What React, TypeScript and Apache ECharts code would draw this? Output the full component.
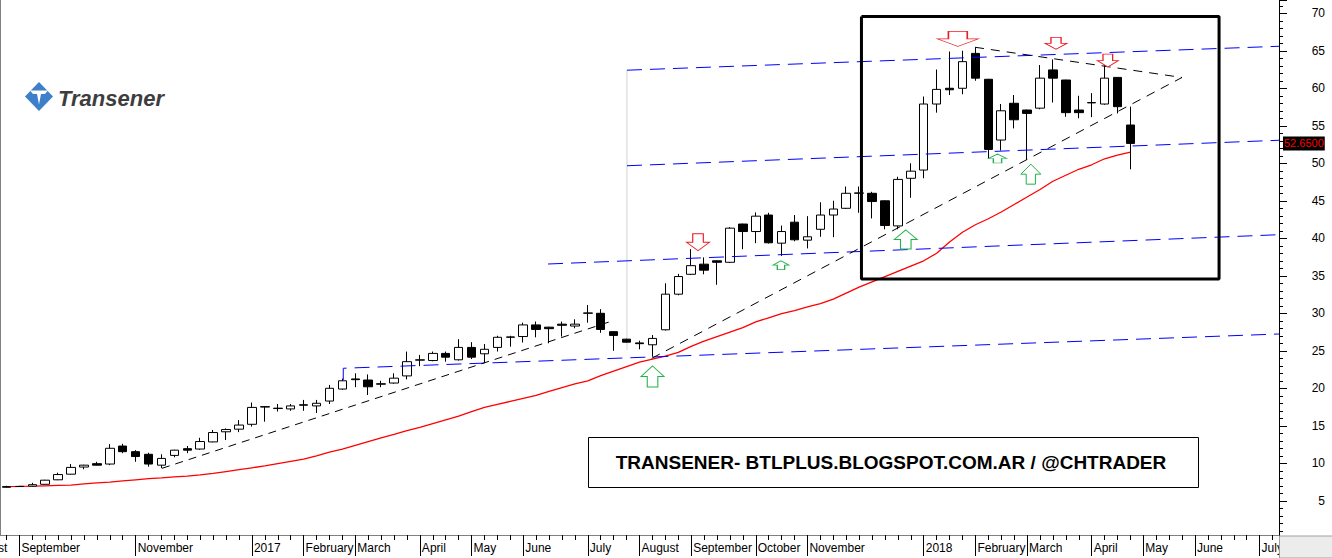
import React, { useEffect, useRef } from 'react';
import * as echarts from 'echarts';

// ---------- categories (weekly bars, week-ending Fridays) ----------
const FIRST_WEEK_UTC = Date.UTC(2016, 7, 26);
const WEEK_COUNT = 99;
const LABELED_MONTHS = [
  '2016-09', '2016-11', '2017-01', '2017-02', '2017-03', '2017-04', '2017-05', '2017-06',
  '2017-07', '2017-08', '2017-09', '2017-10', '2017-11', '2018-01', '2018-02', '2018-03',
  '2018-04', '2018-05', '2018-06', '2018-07',
];
const MONTH_NAMES = ['January', 'February', 'March', 'April', 'May', 'June', 'July', 'August', 'September', 'October', 'November', 'December'];

// ---------- series values ----------
const openPrices = [
  6.8, 6.9, 6.95, 7.2, 7.8, 8.55, 9.5, 9.95, 9.9, 12.3,
  11.55, 11.2, 9.75, 11.05, 11.95, 11.9, 12.85, 14.2, 14.55, 15.2,
  17.55, 17.35, 17.25, 17.8, 17.65, 18.3, 19.9, 21.25, 21.1, 20.6,
  20.7, 21.65, 23.75, 23.7, 24.65, 23.8, 25.45, 24.6, 25.45, 26.8,
  26.9, 28.45, 28.15, 28.55, 28.3, 30.0, 30.0, 27.55, 26.55, 26.05,
  25.8, 27.8, 32.55, 35.2, 36.55, 37.0, 36.8, 41.9, 40.9, 43.1,
  39.35, 42.15, 39.75, 41.2, 43.1, 44.0, 46.0, 46.0, 45.0, 41.65,
  48.0, 49.1, 57.9, 60.0, 60.0, 64.65, 61.2, 53.1, 58.0, 57.1,
  57.35, 62.45, 61.1, 57.1, 58.05, 57.9, 61.45, 55.1,
];
const closePrices = [
  6.9, 6.92, 7.15, 7.75, 8.5, 9.45, 9.75, 9.75, 12.0, 11.55,
  10.9, 9.9, 10.65, 11.75, 11.75, 12.9, 14.1, 14.5, 15.1, 17.45,
  17.5, 17.3, 17.65, 17.75, 18.0, 20.0, 21.0, 21.15, 20.2, 20.55,
  21.35, 23.55, 23.8, 24.65, 24.15, 25.45, 24.15, 25.2, 26.8, 26.85,
  28.45, 27.85, 27.95, 28.4, 28.55, 30.05, 27.85, 27.05, 26.15, 25.95,
  26.65, 32.55, 34.9, 36.35, 35.75, 36.8, 41.35, 40.9, 42.95, 39.4,
  40.9, 39.8, 40.2, 43.1, 43.9, 46.0, 46.05, 44.9, 41.7, 47.85,
  48.95, 57.9, 59.85, 59.8, 63.55, 61.35, 51.85, 57.0, 55.8, 56.65,
  61.35, 61.35, 56.75, 56.75, 58.1, 61.35, 57.55, 52.65,
];
const lowPrices = [
  6.75, 6.85, 6.9, 7.15, 7.75, 8.5, 9.2, 9.7, 9.75, 11.35,
  10.2, 9.55, 9.35, 10.8, 11.35, 11.8, 12.8, 13.1, 14.15, 14.9,
  15.55, 16.9, 17.0, 17.0, 16.7, 17.9, 19.8, 20.15, 19.1, 20.15,
  20.6, 21.2, 22.95, 23.6, 23.55, 23.7, 23.9, 23.4, 24.9, 25.55,
  26.1, 26.8, 26.0, 26.9, 28.0, 28.75, 27.4, 25.0, 26.1, 25.2,
  24.2, 27.7, 32.4, 35.1, 35.2, 33.8, 36.7, 38.55, 39.35, 39.3,
  37.65, 39.6, 38.65, 40.2, 40.15, 43.9, 43.4, 42.65, 41.2, 41.2,
  45.4, 48.0, 56.75, 59.1, 59.2, 61.0, 50.65, 51.7, 54.65, 50.45,
  57.2, 58.1, 56.2, 56.0, 56.15, 57.8, 56.65, 49.2,
];
const highPrices = [
  7.0, 7.0, 7.4, 7.8, 8.75, 9.9, 9.8, 10.2, 12.55, 12.6,
  11.75, 11.4, 11.2, 11.8, 12.3, 13.4, 14.45, 14.65, 15.75, 18.1,
  17.6, 17.9, 17.9, 18.45, 18.45, 20.45, 21.3, 22.0, 21.85, 21.0,
  22.0, 24.9, 24.45, 24.9, 24.9, 26.55, 26.15, 25.9, 27.0, 27.0,
  28.75, 28.9, 28.2, 28.9, 29.2, 31.1, 30.55, 27.6, 26.6, 26.35,
  27.1, 34.0, 35.25, 38.55, 37.45, 37.05, 41.5, 41.95, 43.45, 43.4,
  41.7, 43.1, 42.95, 44.8, 45.0, 46.9, 46.9, 46.2, 45.05, 48.2,
  50.0, 58.9, 62.5, 64.9, 65.0, 65.45, 61.25, 57.9, 59.1, 57.15,
  63.1, 63.85, 61.15, 59.0, 59.35, 63.1, 61.5, 57.55,
];
const movingAverage = [
  6.9, 6.92, 6.95, 7.0, 7.05, 7.1, 7.25, 7.4, 7.5, 7.65,
  7.8, 7.95, 8.05, 8.2, 8.3, 8.45, 8.65, 8.9, 9.15, 9.4,
  9.65, 9.95, 10.25, 10.55, 11.0, 11.5, 11.9, 12.4, 12.9, 13.4,
  13.85, 14.35, 14.8, 15.3, 15.8, 16.3, 16.9, 17.45, 17.85, 18.25,
  18.65, 19.05, 19.6, 20.1, 20.6, 21.0, 21.7, 22.3, 22.9, 23.5,
  23.9, 24.3, 24.8, 25.6, 26.3, 26.9, 27.5, 28.1, 28.85, 29.4,
  29.95, 30.35, 30.85, 31.3, 31.9, 32.7, 33.5, 34.2, 34.9, 35.6,
  36.3, 37.0, 38.0, 39.5, 40.8, 41.8, 42.6, 43.5, 44.5, 45.5,
  46.5, 47.6, 48.4, 49.2, 49.8, 50.6, 51.1, 51.5,
];
const LAST_PRICE = 52.65;
const PRICE_AXIS_MAX = 71.77;

// ---------- annotation lines, in [bar index, price] ----------
const blueChannel1 = [[26.07, 21.11], [26.07, 22.67], [98.5, 27.24]];
const blueChannel2 = [[41.92, 36.57], [98.5, 40.48]];
const blueChannel3 = [[48.03, 49.67], [98.5, 53.07]];
const blueChannel4 = [[48.03, 62.41], [98.5, 65.6]];
const grayGuide = [[48.03, 62.41], [48.03, 25.1]];
const trendLine1 = [[12.04, 9.33], [46.72, 28.88]];
const trendLine2 = [[49.95, 24.0], [90.99, 61.44]];
const trendLine3 = [[74.97, 65.47], [90.99, 61.44]];
const focusBox = [[66.18, 69.57], [93.86, 69.57], [93.86, 34.57], [66.18, 34.57], [66.18, 69.57]];

// arrows: [bar index, price, width px, height px]
const downArrows = [
  [53.53, 39.47, 23, 17],
  [73.64, 66.59, 41, 15],
  [81.24, 66.0, 22, 12],
  [85.25, 63.7, 21, 13],
];
const upArrows = [
  [59.95, 36.41, 16, 9],
  [50.01, 21.57, 23, 21],
  [69.61, 39.84, 23, 19],
  [76.71, 50.64, 18, 9],
  [79.29, 48.55, 20, 20],
];

const FONT = 'Liberation Sans, Arial, sans-serif';
const DOWN_PATH = 'path://M27,0L73,0L73,50L100,50L50,100L0,50L27,50Z';
const UP_PATH = 'path://M50,0L100,50L73,50L73,100L27,100L27,50L0,50Z';

function buildOption() {
  const weekDates: string[] = [];
  for (let k = 0; k < WEEK_COUNT; k++) {
    weekDates.push(new Date(FIRST_WEEK_UTC + k * 7 * 86400000).toISOString().slice(0, 10));
  }
  const labelText: Record<number, string> = {};
  weekDates.forEach((d, i) => {
    const key = d.slice(0, 7);
    const prevKey = i > 0 ? weekDates[i - 1].slice(0, 7) : '';
    if (key !== prevKey && LABELED_MONTHS.includes(key)) {
      const m = parseInt(key.slice(5), 10);
      labelText[i] = m === 1 ? key.slice(0, 4) : MONTH_NAMES[m - 1];
    }
  });
  const isLabeled = (i: number) => labelText[i] !== undefined;

  const candles = openPrices.map((o, i) => [o, closePrices[i], lowPrices[i], highPrices[i]]);

  const overlay = (data: number[][], color: string, type: any, width = 1, z = 5) => ({
    type: 'line',
    xAxisIndex: 2,
    yAxisIndex: 0,
    data,
    symbol: 'none',
    silent: true,
    z,
    lineStyle: { color, width, type },
  });

  const arrowSeries = (list: number[][], path: string, color: string) => ({
    type: 'scatter',
    xAxisIndex: 2,
    yAxisIndex: 0,
    silent: true,
    z: 8,
    symbol: path,
    data: list.map((a) => ({ value: [a[0], a[1]], symbolSize: [a[2], a[3]] })),
    itemStyle: { color: '#ffffff', borderColor: color, borderWidth: 1, opacity: 1 },
  });

  return {
    animation: false,
    backgroundColor: '#ffffff',
    grid: { left: 0, top: 0, width: 1279, bottom: 19.7 },
    xAxis: [
      {
        type: 'category',
        data: weekDates,
        position: 'bottom',
        offset: -3.3,
        axisLine: { show: false, onZero: false },
        axisTick: {
          show: true,
          alignWithLabel: true,
          interval: (i: number) => isLabeled(i),
          length: 21,
          lineStyle: { color: '#000000', width: 1 },
        },
        axisLabel: {
          interval: (i: number) => isLabeled(i),
          formatter: (_v: string, i: number) => labelText[i] || '',
          align: 'left',
          margin: 7,
          padding: [0, 0, 0, 2],
          fontSize: 12,
          fontFamily: FONT,
          color: '#000000',
        },
        splitLine: { show: false },
      },
      {
        type: 'category',
        data: weekDates,
        position: 'bottom',
        offset: -3.3,
        axisLine: { show: true, onZero: false, lineStyle: { color: '#808080', width: 1 } },
        axisTick: { show: true, alignWithLabel: true, interval: 0, length: 5, lineStyle: { color: '#000000' } },
        axisLabel: { show: false },
        splitLine: { show: false },
      },
      { type: 'value', min: -0.5, max: 98.5, show: false, position: 'top' },
    ],
    yAxis: {
      type: 'value',
      position: 'right',
      min: 0,
      max: PRICE_AXIS_MAX,
      interval: 5,
      axisLine: { show: true, onZero: false, lineStyle: { color: '#000000', width: 1 } },
      axisTick: { show: true, length: 8, lineStyle: { color: '#000000' } },
      minorTick: { show: true, splitNumber: 5, length: 4, lineStyle: { color: '#000000' } },
      splitLine: { show: false },
      minorSplitLine: { show: false },
      axisLabel: {
        align: 'right',
        margin: 46,
        fontSize: 12,
        fontFamily: FONT,
        color: '#000000',
        padding: [4, 0, 0, 0],
        showMinLabel: false,
        showMaxLabel: false,
        formatter: (v: number) => (v >= 5 && v <= 70 && v % 5 === 0 ? String(v) : ''),
      },
    },
    series: [
      {
        type: 'line',
        xAxisIndex: 0,
        yAxisIndex: 0,
        data: movingAverage,
        symbol: 'none',
        silent: true,
        z: 2,
        lineStyle: { color: '#ff0000', width: 1.3 },
      },
      overlay(grayGuide, '#d4d4d4', 'solid', 1, 1),
      overlay(blueChannel1, '#0000ff', [15, 8]),
      overlay(blueChannel2, '#0000ff', [15, 8]),
      overlay(blueChannel3, '#0000ff', [15, 8]),
      overlay(blueChannel4, '#0000ff', [15, 8]),
      {
        type: 'candlestick',
        xAxisIndex: 0,
        yAxisIndex: 0,
        data: candles,
        barWidth: 9,
        z: 4,
        itemStyle: {
          color: '#ffffff',
          color0: '#000000',
          borderColor: '#000000',
          borderColor0: '#000000',
          borderWidth: 1,
        },
        markLine: {
          silent: true,
          symbol: ['none', 'none'],
          data: [{ yAxis: LAST_PRICE }],
          lineStyle: { color: 'rgba(0,0,0,0)', width: 0 },
          label: {
            show: true,
            position: 'end',
            distance: 4,
            formatter: LAST_PRICE.toFixed(4),
            color: '#ff0000',
            backgroundColor: '#000000',
            padding: [2, 1, 1, 1],
            fontSize: 11,
            fontFamily: FONT,
          },
        },
      },
      overlay(trendLine1, '#000000', [8, 6]),
      overlay(trendLine2, '#000000', [9, 7]),
      overlay(trendLine3, '#000000', [9, 7]),
      overlay(focusBox, '#000000', 'solid', 3, 6),
      arrowSeries(downArrows, DOWN_PATH, '#ee1c24'),
      arrowSeries(upArrows, UP_PATH, '#22b14c'),
    ],
    graphic: [
      { type: 'line', shape: { x1: 0.5, y1: 0, x2: 0.5, y2: 535 }, style: { stroke: '#808080', lineWidth: 1 }, z: 20 },
      {
        type: 'text', x: -30, y: 548,
        style: { text: 'August', fontSize: 12, fontFamily: FONT, fill: '#000000', align: 'left', verticalAlign: 'middle' },
        z: 20,
      },
      { type: 'rect', shape: { x: 1279.5, y: 536, width: 53, height: 22 }, style: { fill: '#ececec', stroke: '#a0a0a0', lineWidth: 1 }, z: 100 },
      // logo
      { type: 'polygon', shape: { points: [[39, 82], [53, 96.5], [39, 111], [25, 96.5]] }, style: { fill: '#3d7fc9' }, z: 20 },
      { type: 'polygon', shape: { points: [[30, 90.5], [48, 90.5], [45, 94], [41, 94], [39, 104.5], [37, 94], [33, 94]] }, style: { fill: '#ffffff' }, z: 21 },
      {
        type: 'text', x: 58, y: 98,
        style: { text: 'Transener', fontSize: 22, fontWeight: 'bold', fontStyle: 'italic', fontFamily: FONT, fill: '#3d3d3d', align: 'left', verticalAlign: 'middle' },
        z: 20,
      },
      // caption box
      { type: 'rect', shape: { x: 588.5, y: 437.5, width: 610, height: 50 }, style: { fill: '#ffffff', stroke: '#000000', lineWidth: 1 }, z: 50 },
      {
        type: 'text', x: 891, y: 462,
        style: {
          text: 'TRANSENER- BTLPLUS.BLOGSPOT.COM.AR / @CHTRADER',
          fontSize: 19, fontWeight: 'bold', fontFamily: FONT, fill: '#000000', align: 'center', verticalAlign: 'middle',
        },
        z: 51,
      },
    ],
  };
}

export default function App() {
  const ref = useRef<HTMLDivElement>(null);
  useEffect(() => {
    if (!ref.current) return;
    const chart = echarts.init(ref.current, null, { renderer: 'svg' });
    chart.setOption(buildOption() as any);
    return () => chart.dispose();
  }, []);
  return (
    <div
      ref={ref}
      style={{ position: 'fixed', left: 0, top: 0, width: 1332, height: 558, background: '#ffffff' }}
    />
  );
}
